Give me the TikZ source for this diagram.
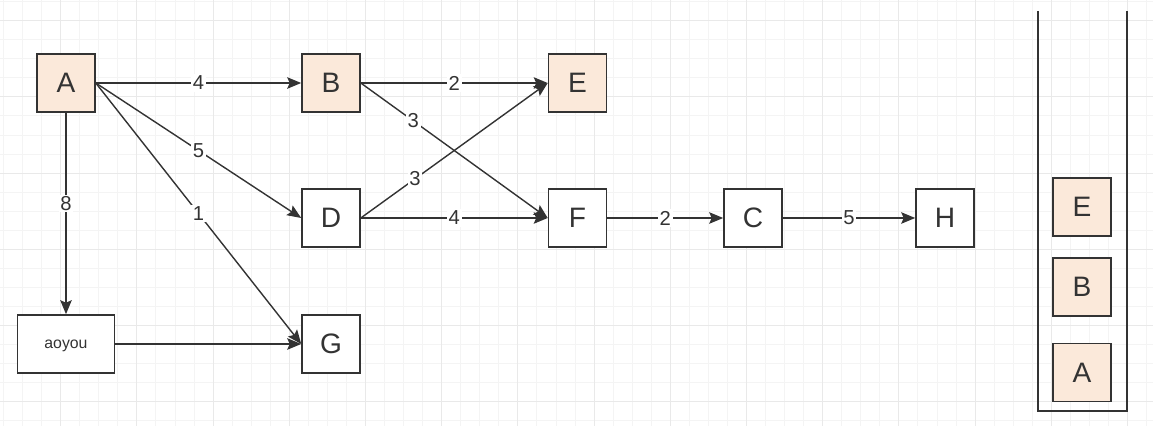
\documentclass[tikz,border=0pt]{standalone}
\usepackage{fontspec}
\setmainfont{Liberation Sans}
\usetikzlibrary{positioning, arrows.meta}
\definecolor{boxfill}{HTML}{FBE9DA}
\definecolor{linegray}{HTML}{333333}
\tikzset{
    >={Stealth[length=0.28cm, width=0.23cm, inset=0.05cm]}, % filled arrow heads
    node distance=5.3cm, % center to center distance, changed per node below
    every node/.style={text=linegray, font=\fontsize{16}{19}\selectfont}, % letters of the vertices
    vertex/.style={draw=linegray, line width=0.9pt, fill=white, minimum size=1.16cm, inner sep=0pt}, % plain vertex
    visited/.style={vertex, fill=boxfill}, % vertex already taken
    weight/.style={fill=white, inner sep=1pt, font=\fontsize{11.5}{13}\selectfont}, % edge weights
    link/.style={->, color=linegray, line width=0.8pt}, % directed edges
}

\begin{document}
\begin{tikzpicture}
            \useasboundingbox (0,0) rectangle (23.06,-8.52);
            % background grid
            \begin{scope}
                \clip (0,0) rectangle (23.06,-8.52);
                \draw[step=0.381, color=gray!9, line width=0.55pt, shift={(1.214,-0.414)}] (-2,-10) grid (23,1);
                \draw[step=1.524, color=gray!17, line width=0.55pt, shift={(1.214,-0.414)}] (-2,-10) grid (23,1);
            \end{scope}

            \node[visited] (A) at (1.32,-1.66) {A};
            \node[visited, right of=A] (B) {B};
            \node[visited, node distance=4.93cm, right of=B] (E) {E};
            \node[vertex, node distance=2.7cm, below of=B] (D) {D};
            \node[vertex, node distance=4.93cm, right of=D] (F) {F};
            \node[vertex, node distance=3.51cm, right of=F] (C) {C};
            \node[vertex, node distance=3.84cm, right of=C] (H) {H};
            \node[vertex, node distance=2.52cm, below of=D] (G) {G};
            \node[vertex, minimum width=1.94cm, text depth=0pt, node distance=5.22cm, below of=A, font=\fontsize{9}{11}\selectfont] (ao) {aoyou};

            \path[link]
                (A.east) edge node[weight]{4} (B.west)
                (A.east) edge node[weight]{5} (D.west)
                (A.east) edge node[weight]{1} (G.west)
                (A.south) edge node[weight, pos=0.45]{8} (ao.north)
                (ao.east) edge (G.west)
                (B.east) edge node[weight]{2} (E.west)
                (B.east) edge node[weight, pos=0.28]{3} (F.west)
                (D.east) edge node[weight, pos=0.29]{3} (E.west)
                (D.east) edge node[weight]{4} (F.west)
                (F.east) edge node[weight]{2} (C.west)
                (C.east) edge node[weight]{5} (H.west);

            % stack
            \draw[draw=linegray, line width=0.9pt] (20.76,-0.22) -- (20.76,-8.22) -- (22.54,-8.22) -- (22.54,-0.22);
            \node[visited] (sE) at (21.64,-4.14) {E};
            \node[visited] (sB) at (21.64,-5.74) {B};
            \node[visited] (sA) at (21.64,-7.45) {A};
        \end{tikzpicture}
\end{document}
